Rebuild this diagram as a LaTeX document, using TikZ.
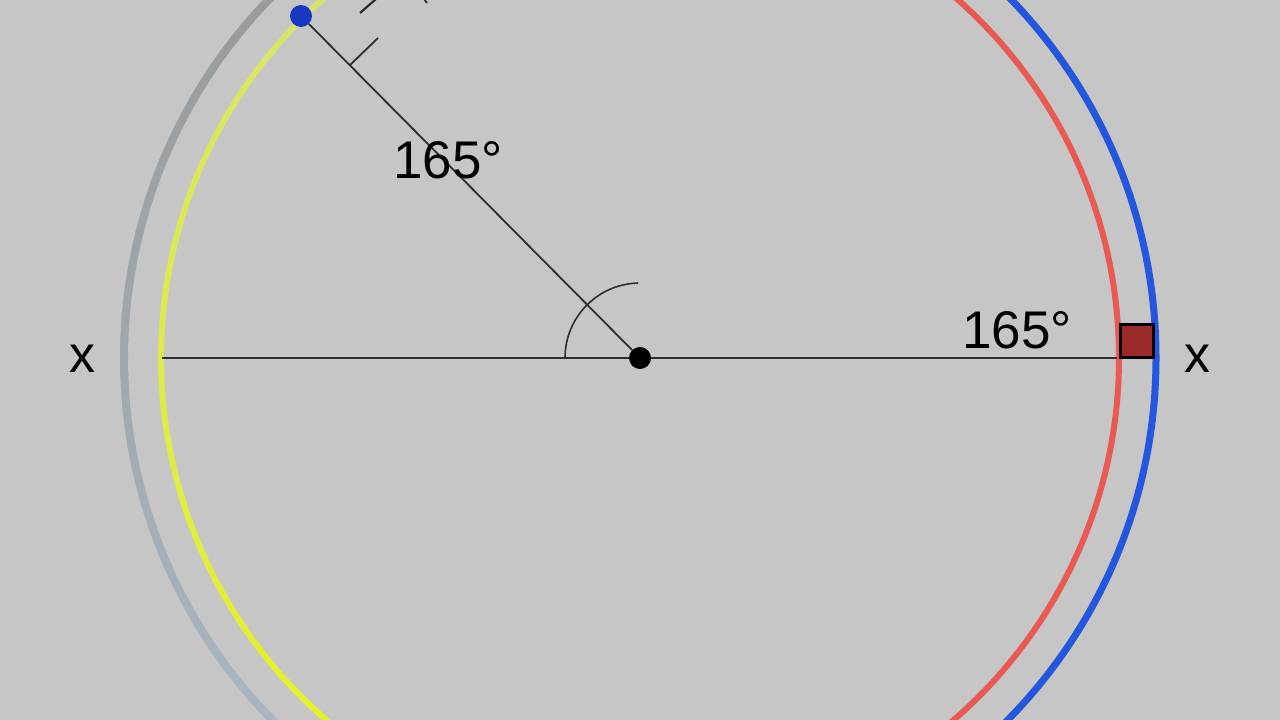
\documentclass[tikz,border=0pt]{standalone}
\usepackage{fontspec}
\setmainfont{Liberation Sans}
\definecolor{bg}{HTML}{C6C6C6}
\definecolor{gTop}{HTML}{979898}
\definecolor{gBot}{HTML}{A8B8C4}
\definecolor{yTop}{HTML}{D6E36E}
\definecolor{yBot}{HTML}{E4F02C}
\definecolor{redarc}{HTML}{E85A52}
\definecolor{bluearc}{HTML}{2457DD}
\definecolor{dotblue}{HTML}{1639C2}
\definecolor{sqred}{HTML}{9A2A2A}
\definecolor{ink}{HTML}{2E2E2E}
\tikzset{
  thinline/.style={draw=ink, line width=1.8pt},
  dotnode/.style={circle, inner sep=0pt, minimum size=22pt},
  lbl/.style={inner sep=0pt, font=\fontsize{53}{60}\selectfont, text=black},
  xlbl/.style={inner sep=0pt, font=\fontsize{52}{60}\selectfont, text=black}
}
\begin{document}
\begin{tikzpicture}[x=1pt,y=-1pt]
\fill[bg] (0,0) rectangle (1280,720);
\useasboundingbox (0,0) rectangle (1280,720);
\begin{scope}
\clip (0,0) rectangle (1280,720);
% outer left (gray) and inner left (yellow) with colour gradients
\foreach \a [evaluate=\a as \p using {int(max(0,min(100,\a-130)))}] in {100,102,...,258} {
  \draw[line width=8pt, color=gTop!\p!gBot] ([shift={(640,358)}]\a:516) arc[start angle=\a, end angle=\a+2.3, radius=516];
  \draw[line width=6pt, color=yTop!\p!yBot] ([shift={(640,358)}]\a:479) arc[start angle=\a, end angle=\a+2.3, radius=479];
}
% right arcs
\draw[line width=7pt, color=bluearc] ([shift={(640,358)}]-90:516) arc[start angle=-90, end angle=90, radius=516];
\draw[line width=6pt, color=redarc] ([shift={(640,358)}]-90:479) arc[start angle=-90, end angle=90, radius=479];
\end{scope}

% points
\coordinate (yl) at (162,358);
\coordinate (rl) at (1117,358);
\node[dotnode, fill=black] (c) at (640,358) {};
\node[dotnode, fill=dotblue] (p) at (301,16) {};

% lines
\draw[thinline] (yl) -- (c);
\draw[thinline] (c) -- (rl);
\draw[thinline] (c) -- (p);

% angle arc
\draw[draw=ink, line width=1.6pt] ([shift={(640,358)}]180:75) arc[start angle=180, end angle=268.5, radius=75];

% tick marks
\coordinate (t1a) at (350,65);
\coordinate (t1b) at (378,38);
\draw[thinline] (t1a) -- (t1b);
\coordinate (t2a) at (360,13);
\coordinate (t2b) at (376,-1);
\draw[thinline, line width=2.2pt] (t2a) -- (t2b);
\coordinate (t3a) at (424,-1);
\coordinate (t3b) at (427,3);
\draw[thinline] (t3a) -- (t3b);

% square marker
\node[draw=black, line width=2.2pt, fill=sqred, minimum size=33pt, inner sep=0pt] (sq) at (1137,341) {};

% labels
\node[lbl] (l1) at (448,160) {165°};
\node[lbl] (l2) at (1017,330) {165°};
\node[xlbl] (x1) at (82,359) {x};
\node[xlbl] (x2) at (1197,359) {x};
\end{tikzpicture}
\end{document}
